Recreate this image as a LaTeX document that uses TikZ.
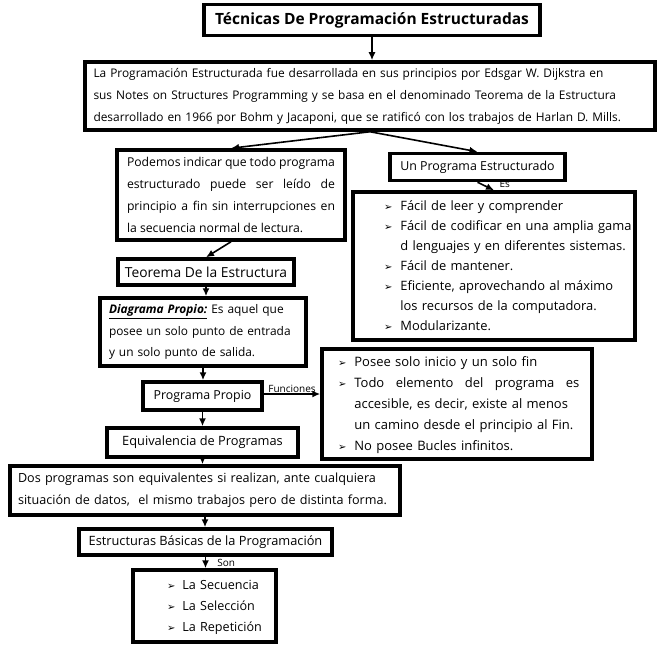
\documentclass[tikz,border=0pt]{standalone}
\usepackage{fontspec}
\setmainfont{Open Sans}
\newfontfamily\symb{DejaVu Sans}
\usetikzlibrary{arrows.meta}

\newcommand{\bul}{{\symb\fontsize{10}{10}\selectfont ➢}}
\newcommand{\tam}[2]{\fontsize{#1}{#2}\selectfont}
\newcommand{\just}[1]{\hbox to 225pt{#1}}

\begin{document}
\begin{tikzpicture}[x=1pt,y=-1pt,
  caja/.style={draw,line width=3.5pt,inner sep=0pt},
  flecha/.style={-{Latex[length=8pt,width=7pt]},line width=1.6pt},
  etiq/.style={font=\tam{10}{11},inner sep=1pt}]

\useasboundingbox (0,0) rectangle (660,650);

% cajas
\node[caja,minimum width=336,minimum height=31,font=\bfseries\tam{15.5}{17}] (tit) at (372,20)
  {Técnicas De Programación Estructuradas};
\node[caja,minimum width=570,minimum height=68,text width=553,align=left,font=\tam{11.9}{22}] (intro) at (370,96)
  {La Programación Estructurada fue desarrollada en sus principios por Edsgar W. Dijkstra en\\
   sus Notes on Structures Programming y se basa en el denominado Teorema de la Estructura\\
   desarrollado en 1966 por Bohm y Jacaponi, que se ratificó con los trabajos de Harlan D. Mills.};
\node[caja,minimum width=228,minimum height=90,text width=208,align=justify,font=\tam{12.2}{22}] (lectura) at (231,195)
  {Podemos indicar que todo programa\linebreak estructurado puede ser leído de\linebreak
   principio a fin sin interrupciones en\linebreak la secuencia normal de lectura.};
\node[caja,minimum width=175,minimum height=27,font=\tam{12.4}{14}] (unprog) at (477.5,167)
  {Un Programa Estructurado};
\node[caja,minimum width=282,minimum height=148,text width=282,align=left,font=\tam{12.9}{20}] (cualid) at (494,266)
  {\hspace*{31pt}\begin{tabular}{@{}l@{\hspace{8pt}}l@{}}
   \bul & Fácil de leer y comprender\\
   \bul & Fácil de codificar en una amplia gama\\
        & d lenguajes y en diferentes sistemas.\\
   \bul & Fácil de mantener.\\
   \bul & Eficiente, aprovechando al máximo\\
        & los recursos de la computadora.\\
   \bul & Modularizante.
   \end{tabular}};
\node[caja,minimum width=176,minimum height=26,font=\tam{13.8}{15}] (teorema) at (206,272)
  {Teorema De la Estructura};
\node[caja,minimum width=206,minimum height=68,text width=188,align=left,font=\tam{11.9}{21.5}] (diagrama) at (203,332)
  {\underline{\textbf{\textit{Diagrama Propio:}}} Es aquel que\\
   posee un solo punto de entrada\\ y un solo punto de salida.};
\node[caja,minimum width=119,minimum height=28,font=\tam{12.4}{14}] (propio) at (202.5,396)
  {Programa Propio};
\node[caja,minimum width=270,minimum height=110,text width=270,align=left,font=\tam{13}{21}] (funcion) at (457,404)
  {\hspace*{16pt}\begin{tabular}{@{}l@{\hspace{8pt}}l@{}}
   \bul & Posee solo inicio y un solo fin\\
   \bul & \just{Todo\hfil elemento\hfil del\hfil programa\hfil es}\\
        & accesible, es decir, existe al menos\\
        & un camino desde el principio al Fin.\\
   \bul & No posee Bucles infinitos.
   \end{tabular}};
\node[caja,minimum width=191,minimum height=29,font=\tam{12.8}{14}] (equiv) at (202.5,442.5)
  {Equivalencia de Programas};
\node[caja,minimum width=390,minimum height=49,text width=374,align=left,font=\tam{12.6}{22}] (dosprog) at (205,490.5)
  {Dos programas son equivalentes si realizan, ante cualquiera\\
   situación de datos,\ \ el mismo trabajos pero de distinta forma.};
\node[caja,minimum width=253,minimum height=26,font=\tam{12.8}{14}] (basicas) at (205.5,542)
  {Estructuras Básicas de la Programación};
\node[caja,minimum width=143,minimum height=72,text width=143,align=left,font=\tam{12.6}{21}] (tres) at (204.5,606)
  {\hspace*{34pt}\begin{tabular}{@{}l@{\hspace{7pt}}l@{}}
   \bul & La Secuencia\\
   \bul & La Selección\\
   \bul & La Repetición
   \end{tabular}};

% conectores
\draw[flecha] (tit.south) -- (tit.south |- intro.north);
\draw[flecha] (intro.south) -- (lectura.north);
\draw[flecha] (intro.south) -- (unprog.north);
\draw[flecha] (unprog.south) -- node[etiq,right,xshift=12pt,yshift=2pt] {Es} (cualid.north);
\draw[flecha] (lectura.south) -- (teorema.north);
\draw[flecha] (teorema.south) -- (teorema.south |- diagrama.north);
\draw[flecha] (diagrama.south) -- (diagrama.south |- propio.north);
\draw[flecha] ([yshift=2pt]propio.east) -- node[etiq,above] {Funciones} ([yshift=2pt]propio.east -| funcion.west);
\draw[flecha] (propio.south) -- (equiv.north);
\draw[flecha] (equiv.south) -- (equiv.south |- dosprog.north);
\draw[flecha] (dosprog.south) -- (dosprog.south |- basicas.north);
\draw[flecha] (basicas.south) -- node[etiq,right,xshift=10pt] {Son} (basicas.south |- tres.north);

\end{tikzpicture}
\end{document}
